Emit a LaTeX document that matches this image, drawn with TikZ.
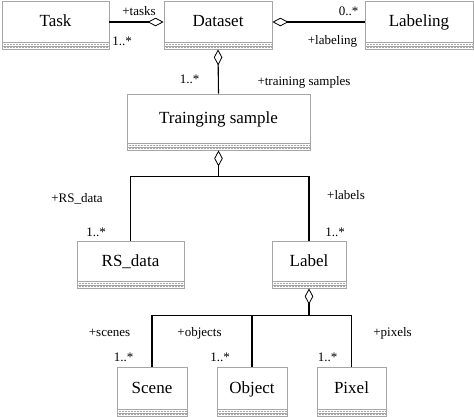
\documentclass[tikz,border=0pt]{standalone}
\usepackage{fontspec}
\setmainfont{Liberation Serif}
\usetikzlibrary{arrows.meta}

\begin{document}
\begin{tikzpicture}[x=1pt, y=-1pt,
  class/.style={draw=gray!70, line width=0.8pt, fill=white, inner sep=0pt,
    minimum height=48pt, font=\fontsize{17}{20}\selectfont,
    text height=12pt, text depth=8.5pt,
    path picture={
      \draw[gray!70, line width=0.6pt] ([yshift=7pt]path picture bounding box.south west) -- ([yshift=7pt]path picture bounding box.south east);
      \draw[densely dotted, line width=0.5pt] ([yshift=4.8pt]path picture bounding box.south west) -- ([yshift=4.8pt]path picture bounding box.south east);
      \draw[gray!70, line width=0.4pt] ([yshift=3.2pt]path picture bounding box.south west) -- ([yshift=3.2pt]path picture bounding box.south east);
      \draw[densely dotted, line width=0.5pt] ([yshift=1.6pt]path picture bounding box.south west) -- ([yshift=1.6pt]path picture bounding box.south east);}},
  role/.style={font=\fontsize{13}{15}\selectfont, inner sep=0pt},
  assoc/.style={line width=1.1pt},
  agg/.style={assoc, {Diamond[open, length=16pt, width=8.5pt, line width=0.8pt]}-}]
\useasboundingbox (0,0) rectangle (474,416);
\node[class, minimum width=107pt] (task) at (55.5,25) {Task};
\node[class, minimum width=108pt] (dataset) at (218,25) {Dataset};
\node[class, minimum width=108pt] (labeling) at (419,25) {Labeling};
\node[class, minimum width=183pt, minimum height=56pt] (sample) at (218.5,122) {Trainging sample};
\node[class, minimum width=107pt, minimum height=47pt] (rsdata) at (130.5,264.5) {RS\_data};
\node[class, minimum width=74pt, minimum height=47pt] (label) at (309,264.5) {Label};
\node[class, minimum width=70pt, minimum height=49pt] (scene) at (152,391.5) {Scene};
\node[class, minimum width=70pt, minimum height=49pt] (object) at (252,391.5) {Object};
\node[class, minimum width=69pt, minimum height=49pt] (pixel) at (351.5,391.5) {Pixel};
\draw[agg] ([yshift=3pt]dataset.west) -- ([yshift=3pt]task.east);
\draw[agg] ([yshift=3pt]dataset.east) -- ([yshift=3pt]labeling.west);
\draw[agg] (dataset.south) -- (sample.north);
\draw[agg] (sample.south) -- ++(0,26) coordinate (split1);
\draw[assoc] (rsdata.north) |- (split1) -| (label.north);
\draw[agg] (label.south) -- ++(0,27) coordinate (split2);
\draw[assoc] (scene.north) |- (split2) -| (pixel.north);
\draw[assoc] (object.north) -- (object.north |- split2);
\node[role] (tasks) at (139,11) {+tasks};
\node[role] (tasksm) at (122,41) {1..*};
\node[role] (labelingm) at (348.5,11) {0..*};
\node[role] (labelingr) at (332.5,41) {+labeling};
\node[role] (samplem) at (189.5,79) {1..*};
\node[role] (sampler) at (304,82) {+training samples};
\node[role] (rsdatar) at (77,199) {+RS\_data};
\node[role] (rsdatam) at (96,232) {1..*};
\node[role] (labelr) at (346,195) {+labels};
\node[role] (labelm) at (335,232) {1..*};
\node[role] (scener) at (109.5,333) {+scenes};
\node[role] (objectr) at (199.5,333) {+objects};
\node[role] (pixelr) at (392.5,333) {+pixels};
\node[role] (scenem) at (123.5,357) {1..*};
\node[role] (objectm) at (220,357) {1..*};
\node[role] (pixelm) at (327.5,357) {1..*};
\end{tikzpicture}
\end{document}
